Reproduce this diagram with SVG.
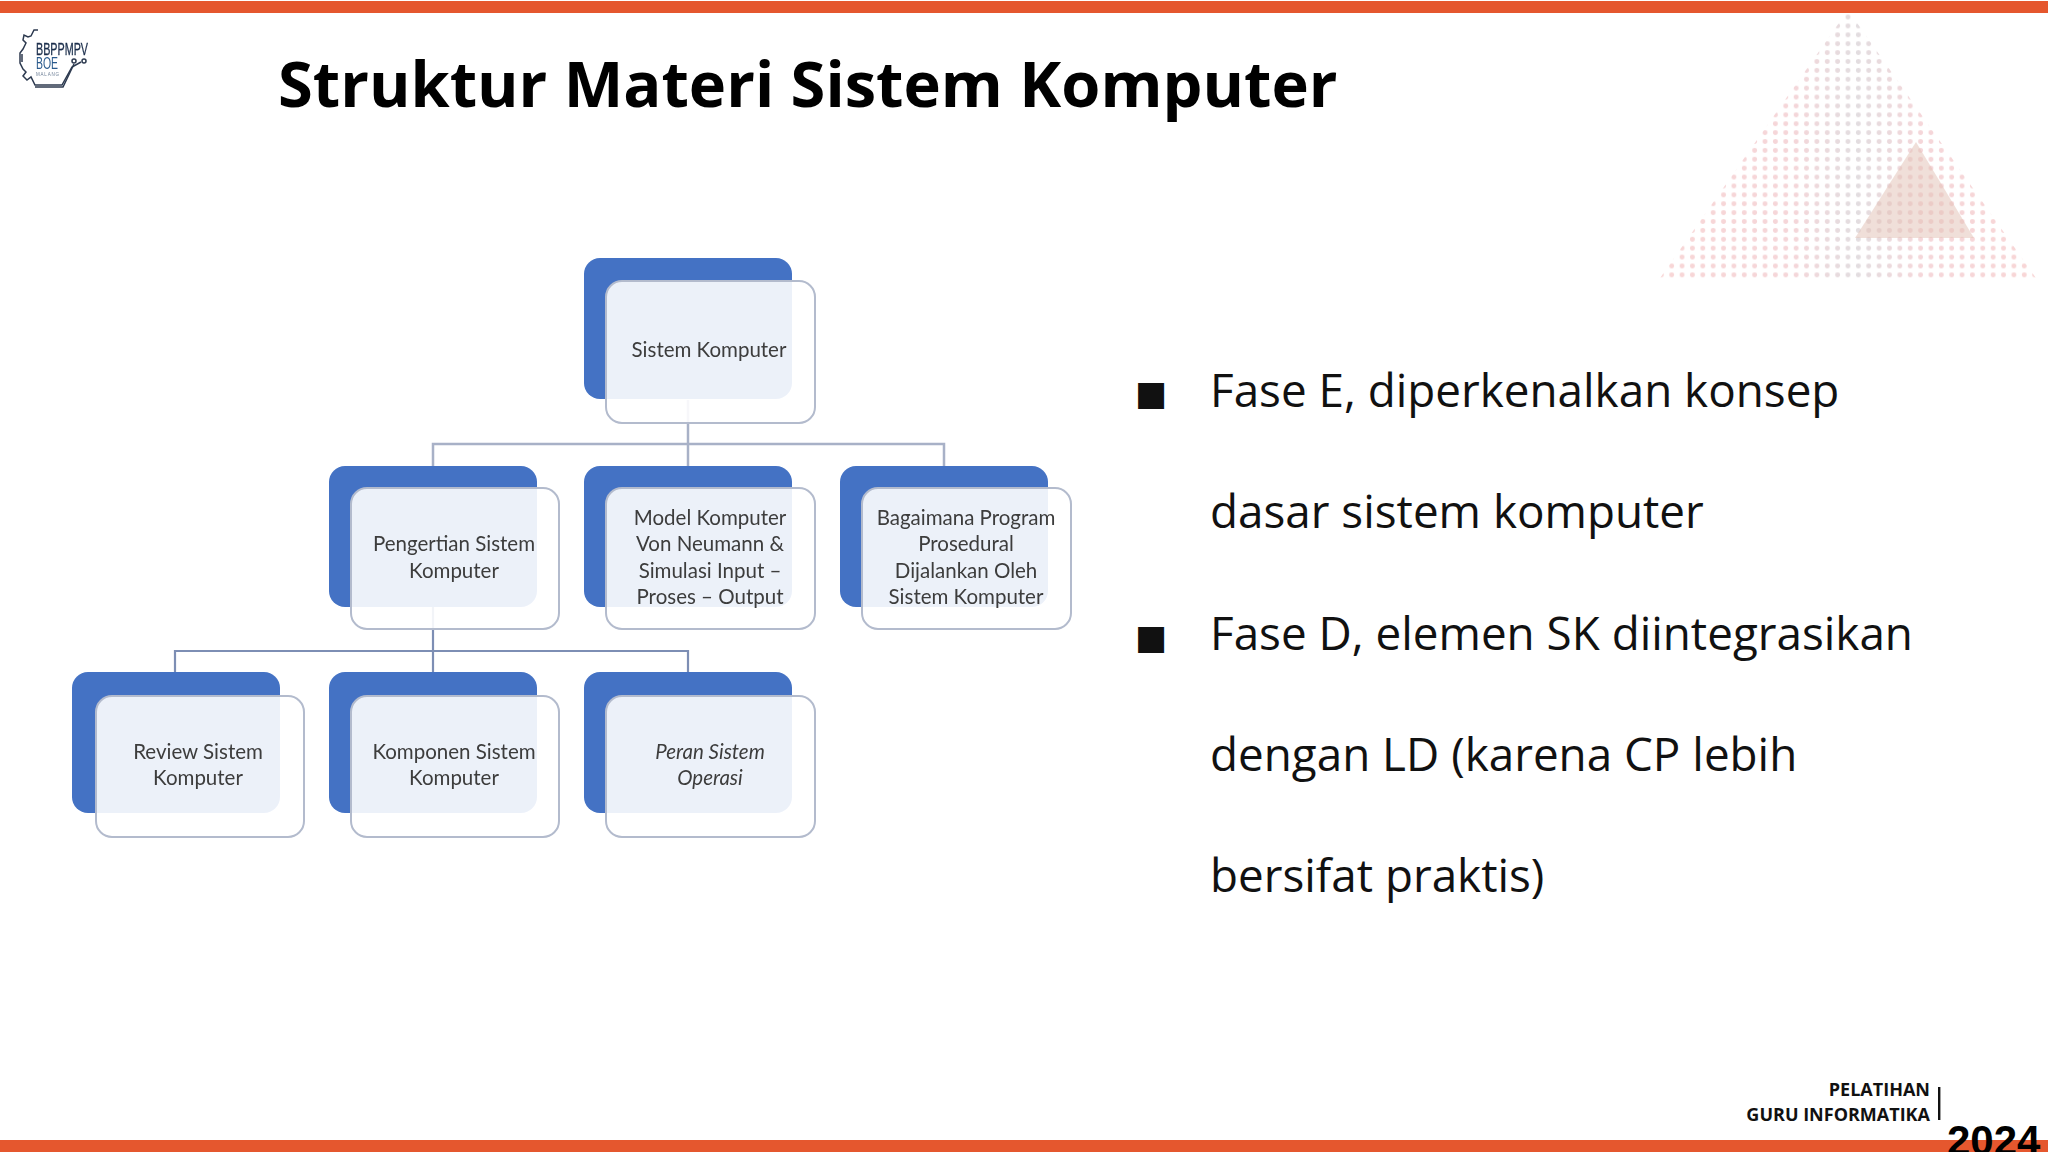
<svg xmlns="http://www.w3.org/2000/svg" width="2048" height="1152" viewBox="0 0 2048 1152">
<style>
.bar{fill:#e5572e}
.back{fill:#4472c4}
.front{fill:#fff;fill-opacity:.9;stroke:#b3bbcd;stroke-width:2}
.lbl{font-family:Lato,"Open Sans",sans-serif;font-size:20.5px;fill:#3c3c3c;text-anchor:middle;filter:url(#soft)}
.body{font-family:"Open Sans",Lato,sans-serif;font-size:45.8px;fill:#111}
.bul{font-family:"DejaVu Sans",sans-serif;font-size:34px;fill:#111}
.foot{font-family:"Open Sans",Lato,sans-serif;font-weight:700;font-size:18px;fill:#111;text-anchor:end}
.conn{fill:none;stroke:#a8b1c7;stroke-width:2.5}
.conn2{fill:none;stroke:#7d8eb4;stroke-width:2.2}
.logo{fill:none;stroke:#2d3a50;stroke-width:1.5}
</style>
<defs>
<filter id="soft" x="-10%" y="-20%" width="120%" height="140%"><feGaussianBlur stdDeviation="0.7"/></filter>
<filter id="softlogo" filterUnits="userSpaceOnUse" x="10" y="20" width="90" height="75"><feGaussianBlur stdDeviation="0.35"/></filter>
<filter id="softdots" filterUnits="userSpaceOnUse" x="1640" y="0" width="408" height="300"><feGaussianBlur stdDeviation="0.6"/></filter>
<linearGradient id="dotcol" x1="1663" x2="2033" y1="0" y2="0" gradientUnits="userSpaceOnUse">
<stop offset="0" stop-color="#f8d6d6"/><stop offset=".35" stop-color="#f5d6d9"/><stop offset=".52" stop-color="#e2dde0"/><stop offset=".7" stop-color="#f5d6d9"/><stop offset="1" stop-color="#f8d6d6"/>
</linearGradient>
<pattern id="dots" x="1842.8" y="12.6" width="10.37" height="8.89" patternUnits="userSpaceOnUse"><circle cx="5.18" cy="4.44" r="2.4" fill="#fff"/></pattern>
<clipPath id="tri"><polygon points="1848,10 1658,281 2038,281"/></clipPath>
<mask id="dotmask" maskUnits="userSpaceOnUse" x="1640" y="0" width="408" height="300"><rect x="1640" y="0" width="408" height="300" fill="url(#dots)" clip-path="url(#tri)"/></mask>
</defs>
<rect width="2048" height="1152" fill="#fff"/>
<g id="decor">
<g filter="url(#softdots)"><rect x="1640" y="0" width="408" height="300" fill="url(#dotcol)" mask="url(#dotmask)"/></g>
<polygon points="1916,142 1855,238 1974,238" fill="#e2bfb4" fill-opacity=".5"/>
</g>
<rect class="bar" x="0" y="1" width="2048" height="12"/>
<rect class="bar" x="0" y="1140" width="2048" height="12"/>
<g id="logo" filter="url(#softlogo)">
<path class="logo" d="M38 30H34L31 36L28 37L24 35L23 40L26 43L23 49L20 53V63L23 69L26 72L23 76L27 80L31 77L35 85H62L72 67L81 62"/>
<path class="logo" d="M22 54V62M35 87H63L74 64"/>
<circle class="logo" cx="74" cy="61" r="2"/><circle class="logo" cx="84" cy="61" r="2"/>
<text x="36" y="55" font-family="'Liberation Sans',sans-serif" font-size="17" fill="#1c2f4c" stroke="#1c2f4c" stroke-width=".3" textLength="52" lengthAdjust="spacingAndGlyphs">BBPPMPV</text>
<text x="36" y="69" font-family="'Liberation Sans',sans-serif" font-size="16" fill="#2a5a8c" textLength="22" lengthAdjust="spacingAndGlyphs">BOE</text>
<text x="36" y="75.5" font-family="'Liberation Sans',sans-serif" font-size="4.5" fill="#6d7f96" textLength="23" lengthAdjust="spacing">MALANG</text>
</g>
<text id="title" x="278" y="107" font-family="'Open Sans',Lato,sans-serif" font-weight="700" font-size="63.2" fill="#000">Struktur Materi Sistem Komputer</text>
<g id="connectors">
<path class="conn" d="M433 466V444H944V466"/>
<path class="conn" d="M688 400V466"/>
<path class="conn2" d="M175 672V651H688V672"/>
<path class="conn2" d="M433 607V672"/>
</g>
<g id="n-root">
<rect class="back" x="584" y="258" width="208" height="141" rx="16"/><rect class="front" x="606" y="281" width="209" height="142" rx="16"/>
<text class="lbl" x="709" y="357">Sistem Komputer</text>
</g>
<g id="n-pengertian">
<rect class="back" x="329" y="466" width="208" height="141" rx="16"/><rect class="front" x="351" y="488" width="208" height="141" rx="16"/>
<text class="lbl" x="454" y="551">Pengertian Sistem</text><text class="lbl" x="454" y="578">Komputer</text>
</g>
<g id="n-model">
<rect class="back" x="584" y="466" width="208" height="141" rx="16"/><rect class="front" x="606" y="488" width="209" height="141" rx="16"/>
<text class="lbl" x="710" y="525">Model Komputer</text><text class="lbl" x="710" y="551">Von Neumann &amp;</text><text class="lbl" x="710" y="578">Simulasi Input –</text><text class="lbl" x="710" y="604">Proses – Output</text>
</g>
<g id="n-bagaimana">
<rect class="back" x="840" y="466" width="208" height="141" rx="16"/><rect class="front" x="862" y="488" width="209" height="141" rx="16"/>
<text class="lbl" x="966" y="525">Bagaimana Program</text><text class="lbl" x="966" y="551">Prosedural</text><text class="lbl" x="966" y="578">Dijalankan Oleh</text><text class="lbl" x="966" y="604">Sistem Komputer</text>
</g>
<g id="n-review">
<rect class="back" x="72" y="672" width="208" height="141" rx="16"/><rect class="front" x="96" y="696" width="208" height="141" rx="16"/>
<text class="lbl" x="198" y="759">Review Sistem</text><text class="lbl" x="198" y="785">Komputer</text>
</g>
<g id="n-komponen">
<rect class="back" x="329" y="672" width="208" height="141" rx="16"/><rect class="front" x="351" y="696" width="208" height="141" rx="16"/>
<text class="lbl" x="454" y="759">Komponen Sistem</text><text class="lbl" x="454" y="785">Komputer</text>
</g>
<g id="n-peran">
<rect class="back" x="584" y="672" width="208" height="141" rx="16"/><rect class="front" x="606" y="696" width="209" height="141" rx="16"/>
<text class="lbl" x="710" y="759" font-style="italic">Peran Sistem</text><text class="lbl" x="710" y="785" font-style="italic">Operasi</text>
</g>
<g id="bullets">
<text class="bul" x="1135" y="405">■</text>
<text class="body" x="1210" y="407">Fase E, diperkenalkan konsep</text>
<text class="body" x="1210" y="528">dasar sistem komputer</text>
<text class="bul" x="1135" y="649">■</text>
<text class="body" x="1210" y="650">Fase D, elemen SK diintegrasikan</text>
<text class="body" x="1210" y="771">dengan LD (karena CP lebih</text>
<text class="body" x="1210" y="892">bersifat praktis)</text>
</g>
<g id="footer">
<text class="foot" x="1930" y="1096">PELATIHAN</text>
<text class="foot" x="1930" y="1121">GURU INFORMATIKA</text>
<rect x="1938" y="1087" width="2.4" height="33" fill="#111"/>
<text x="1947" y="1155" font-family="'Liberation Sans',sans-serif" font-weight="700" font-size="42" fill="#000">2024</text>
</g>
</svg>
